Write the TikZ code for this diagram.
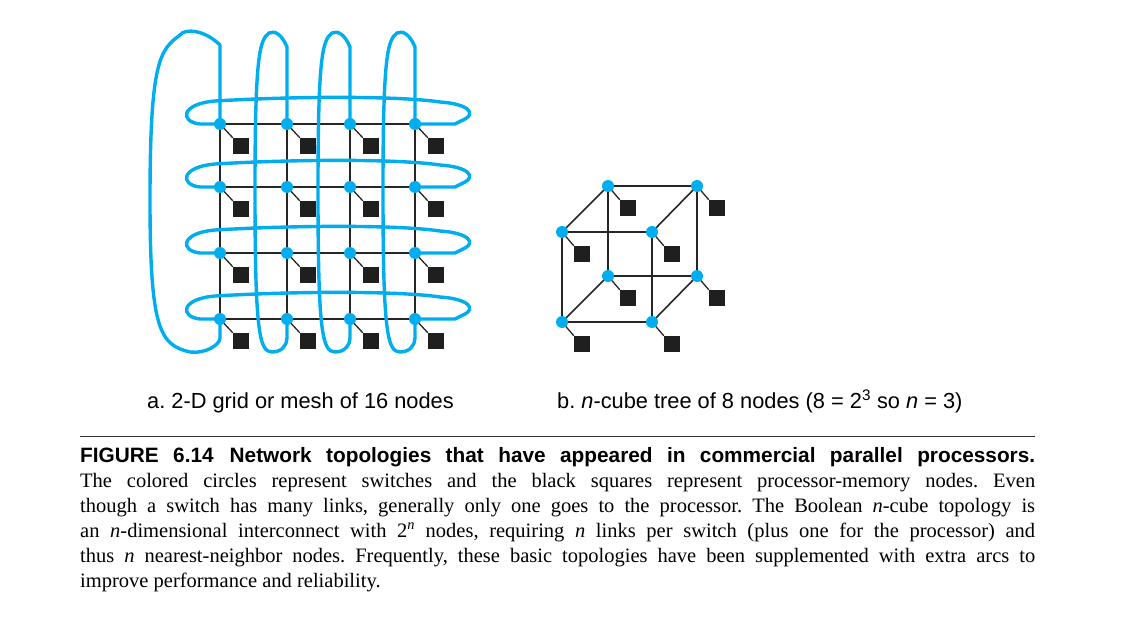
\documentclass[tikz,border=0pt]{standalone}
\usepackage{fontspec}
\setmainfont{Liberation Serif}
\setsansfont{Liberation Sans}
\usetikzlibrary{calc}
\definecolor{cy}{HTML}{00AEEF}
\begin{document}
\frenchspacing
\begin{tikzpicture}[x=1pt,y=-1pt,
  sw/.style={circle,fill=cy,inner sep=0pt,minimum size=12pt},
  pm/.style={fill=black!88,inner sep=0pt,minimum size=16pt},
  wire/.style={cy,line width=3.4pt,line join=round},
  lnk/.style={black!85,line width=2.6pt},
  lbl/.style={font=\sffamily\fontsize{21.8}{26}\selectfont,anchor=base west,inner sep=0pt},
  captxt/.style={font=\fontsize{20.5}{24}\selectfont,anchor=base west,inner sep=0pt}]
\useasboundingbox (0,0) rectangle (1141,618);
% grid
\foreach \x [count=\i] in {220,287,350,415}{
  \foreach \y [count=\j] in {124,187,253,319}{
    \coordinate (g\i\j) at (\x,\y);
  }}
\foreach \i in {1,...,4}{
  \draw[lnk] (g\i1) -- (g\i4);
  \draw[lnk] (g1\i) -- (g4\i);
  \foreach \j in {1,...,4}{
    \node[pm] (p\i\j) at ($(g\i\j)+(21,22)$) {};
    \draw[black!85,line width=1.3pt] (g\i\j) -- (p\i\j.north west);
  }}
% vertical loops
\draw[wire] (g11) -- (220,45) .. controls (205,30) and (185,28) .. (180,35)
  .. controls (160,50) and (150,60) .. (150,200) .. controls (150,330) and (160,345) .. (190,352)
  .. controls (205,354) and (220,345) .. (220,338) -- (g14);
\foreach \i/\x in {2/287,3/350,4/415}{
  \draw[wire] (g\i1) -- (\x,47) .. controls (\x-5,35) and (\x-12,30) .. (\x-18,33)
    .. controls (\x-28,40) and (\x-32,60) .. (\x-32,190) .. controls (\x-32,330) and (\x-28,352) .. (\x-15,352)
    .. controls (\x-5,352) and (\x,345) .. (\x,338) -- (g\i4);
}
% horizontal loops
\foreach \j/\y in {1/124,2/187,3/253,4/319}{
  \draw[wire] (g1\j) -- (200,\y) .. controls (180,\y-2) and (180,\y-20) .. (215,\y-23)
    .. controls (300,\y-28) and (400,\y-28) .. (440,\y-22)
    .. controls (470,\y-20) and (475,\y-10) .. (465,\y-5) -- (455,\y) -- (g4\j);
}
\foreach \i in {1,...,4}{\foreach \j in {1,...,4}{\node[sw] (s\i\j) at (g\i\j) {};}}
% cube
\foreach \n/\x/\y in {a/562/232,b/652/232,c/562/322,d/652/322,e/608/186,f/697/186,g/608/276,h/697/276}{
  \coordinate (c\n) at (\x,\y);
  \node[pm] (q\n) at ($(c\n)+(20,22)$) {};
  \draw[black!85,line width=1.3pt] (c\n) -- (q\n.north west);
}
\draw[black!85,line width=1.6pt] (ca)--(cb)--(cd)--(cc)--(ca) (ce)--(cf)--(ch)--(cg)--(ce)
  (ca)--(ce) (cb)--(cf) (cc)--(cg) (cd)--(ch);
\foreach \n in {a,...,h}{\node[sw] at (c\n) {};}
% labels
\node[lbl] (la) at (147,408) {a. 2-D grid or mesh of 16 nodes};
\node[lbl] (lb) at (557,408) {b. \emph{n}-cube tree of 8 nodes (8 = 2\textsuperscript{3} so \emph{n} = 3)};
\draw[black!80,line width=1pt] (80,436) -- (1035,436);
\node[captxt,font=\sffamily\bfseries\fontsize{20.8}{24}\selectfont] at (80,462) {\hbox to 955pt{FIGURE 6.14\hskip 16pt Network topologies that have appeared in commercial parallel processors.}};
\node[captxt] at (80,487) {\hbox to 955pt{The colored circles represent switches and the black squares represent processor-memory nodes. Even}};
\node[captxt] at (80,512) {\hbox to 955pt{though a switch has many links, generally only one goes to the processor. The Boolean \emph{n}-cube topology is}};
\node[captxt] at (80,537) {\hbox to 955pt{an \emph{n}-dimensional interconnect with 2\textsuperscript{\emph{n}} nodes, requiring \emph{n} links per switch (plus one for the processor) and}};
\node[captxt] at (80,562) {\hbox to 955pt{thus \emph{n} nearest-neighbor nodes. Frequently, these basic topologies have been supplemented with extra arcs to}};
\node[captxt] at (80,587) {improve performance and reliability.};
\end{tikzpicture}
\end{document}
